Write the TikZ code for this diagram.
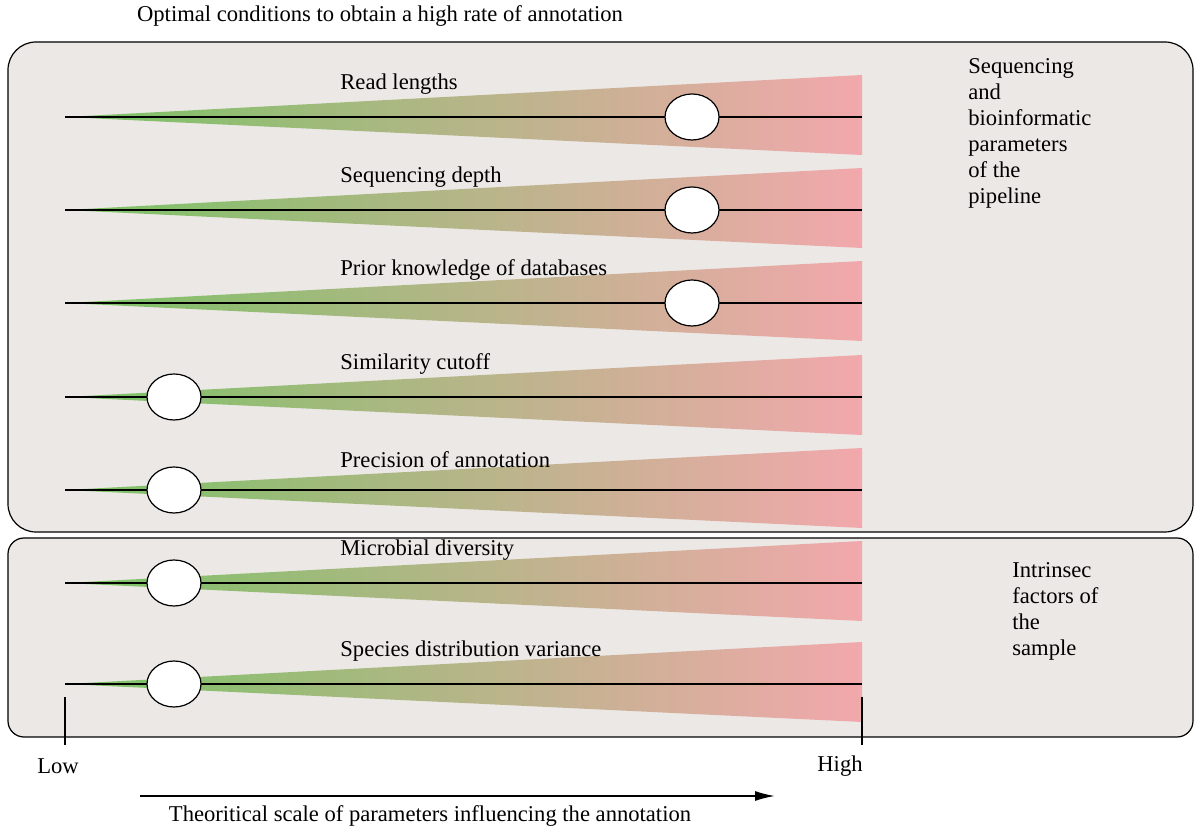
\documentclass[tikz,border=0pt]{standalone}
\usepackage{fontspec}
\setmainfont{Liberation Serif}
\usetikzlibrary{arrows.meta,shapes.geometric}
\definecolor{bg}{RGB}{236,232,230}
\definecolor{gr}{RGB}{120,195,100}
\definecolor{md}{RGB}{210,190,162}
\definecolor{rd}{RGB}{242,168,172}
\tikzset{
 panel/.style={draw=black,fill=bg,line width=0.6pt},
 wedge/.style={shading=axis,left color=gr,middle color=md,right color=rd,shading angle=90},
 knob/.style={draw=black,fill=white,ellipse,minimum width=27pt,minimum height=23pt,inner sep=0pt,line width=0.6pt},
 txt/.style={font=\fontsize{11.3}{13}\selectfont},
 lbl/.style={txt,anchor=south west,inner sep=0pt},
 side/.style={anchor=north west,align=left,font=\fontsize{11.3}{13}\selectfont,inner sep=0pt},
}
\begin{document}
\begin{tikzpicture}[x=0.5pt,y=-0.5pt]
\useasboundingbox (0,0) rectangle (1200,833);
\node[txt] (title) at (380,16) {Optimal conditions to obtain a high rate of annotation};
\draw[panel,rounded corners=14pt] (8,42) rectangle (1193,532);
\draw[panel,rounded corners=8pt] (8,538) rectangle (1193,737);
\foreach \y/\kx/\t [count=\i] in {117/692/Read lengths,210/692/Sequencing depth,303/692/Prior knowledge of databases,397/174/Similarity cutoff,490/174/Precision of annotation,583/174/Microbial diversity,684/174/Species distribution variance}{
  \shade[wedge] (65,\y) -- (862,\y-42) -- (862,\y+38) -- cycle;
  \coordinate (s\i) at (65,\y);
  \coordinate (e\i) at (862,\y);
  \draw[line width=0.6pt] (s\i) -- (e\i);
  \node[knob] (k\i) at (\kx,\y) {};
  \node[lbl] (l\i) at (340,\y-22) {\t};
}
\node[side] (t1) at (968,58) {Sequencing\\and\\bioinformatic\\parameters\\of the\\pipeline};
\node[side] (t2) at (1012,562) {Intrinsec\\factors of\\the\\sample};
\coordinate (a1) at (65,697); \coordinate (a2) at (65,745);
\coordinate (b1) at (862,697); \coordinate (b2) at (862,745);
\draw[line width=0.8pt] (a1) -- (a2);
\draw[line width=0.8pt] (b1) -- (b2);
\node[txt] (low) at (58,766) {Low};
\node[txt] (high) at (840,766) {High};
\coordinate (ar1) at (140,796); \coordinate (ar2) at (775,796);
\draw[line width=0.8pt,-{Latex[length=10pt,width=5pt]}] (ar1) -- (ar2);
\node[txt] (scale) at (430,816) {Theoritical scale of parameters influencing the annotation};
\end{tikzpicture}
\end{document}
